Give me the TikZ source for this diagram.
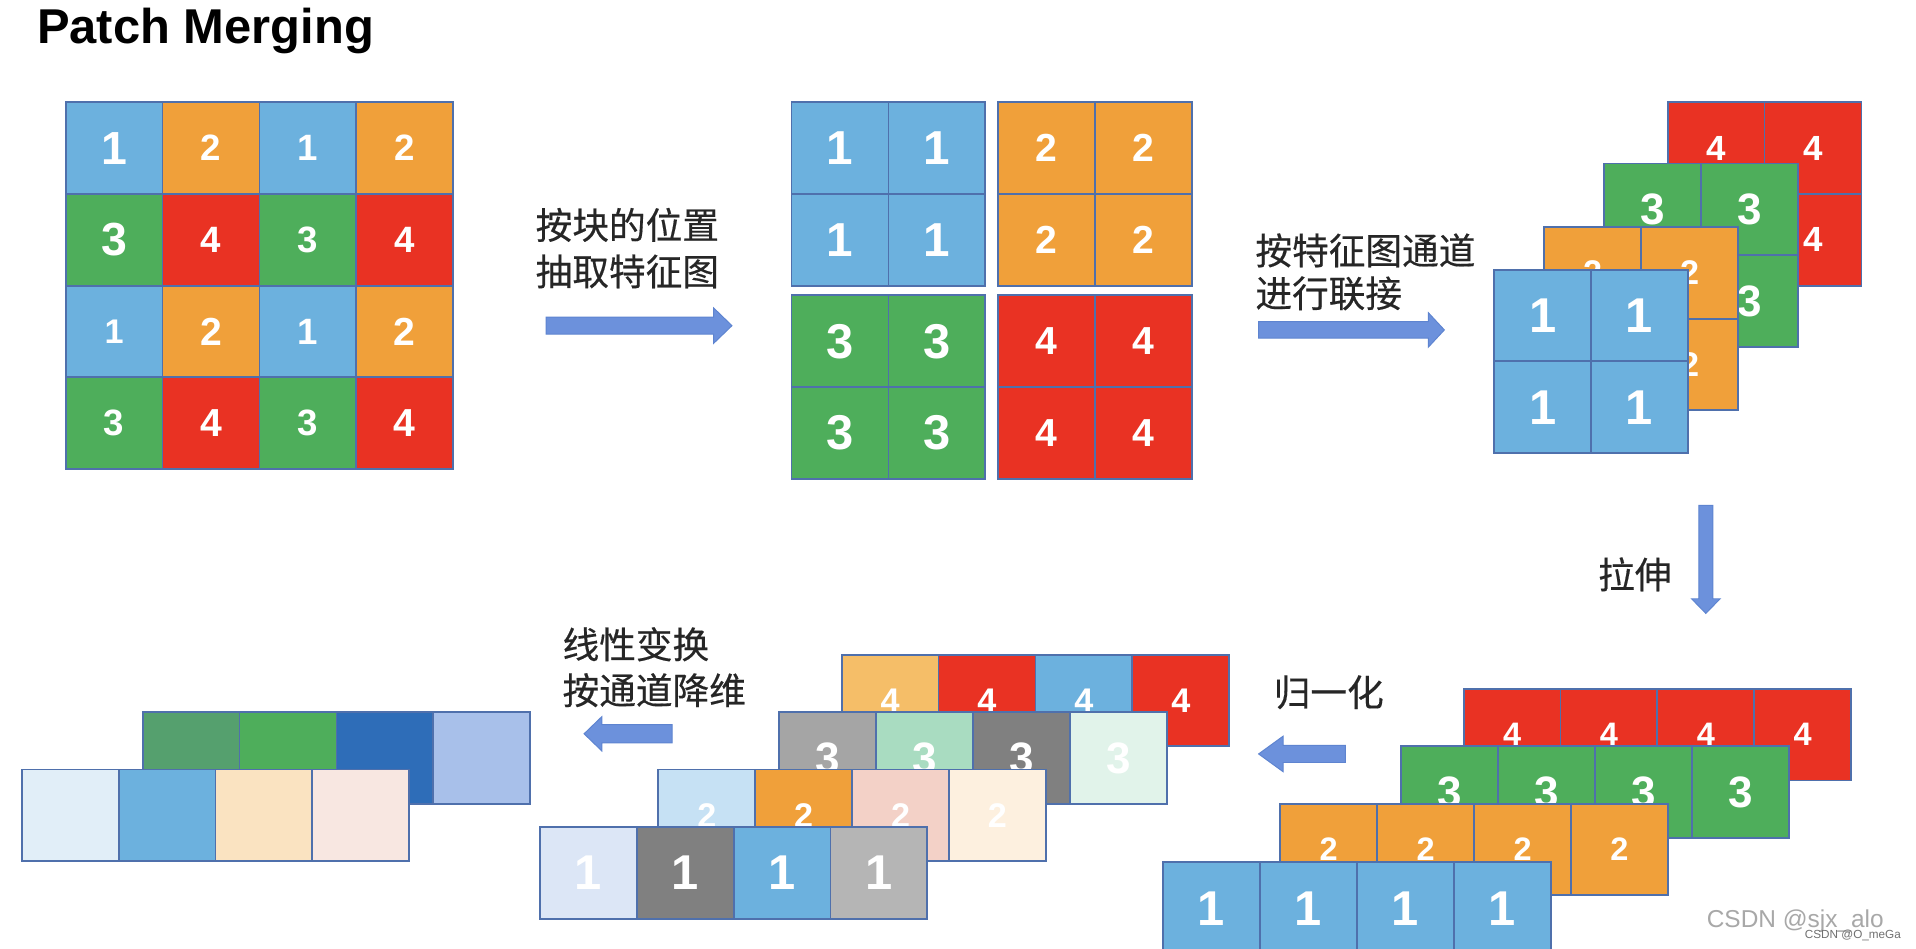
\documentclass[tikz,border=0pt]{standalone}
\usepackage{fontspec}
\setmainfont{Liberation Sans}
\newfontfamily\cjk[FakeBold=0.4]{Noto Sans CJK SC}
\definecolor{blueC}{HTML}{6CB1DE}
\definecolor{orangeC}{HTML}{F0A03A}
\definecolor{greenC}{HTML}{4EAE5B}
\definecolor{redC}{HTML}{E93223}
\definecolor{cellborder}{HTML}{4F70AC}
\definecolor{arrowblue}{HTML}{6C91DC}
\definecolor{arrowedge}{HTML}{5E84D0}
\definecolor{txtgray}{HTML}{262626}
\definecolor{wmgray}{HTML}{A8A8A8}
\definecolor{wmdark}{HTML}{707070}
% row stack 5 colours
\definecolor{lorange}{HTML}{F5BE68}
\definecolor{grayA}{HTML}{A5A5A5}
\definecolor{mintA}{HTML}{A9DCC1}
\definecolor{grayB}{HTML}{808080}
\definecolor{mintB}{HTML}{E1F3EA}
\definecolor{skyA}{HTML}{C6E1F4}
\definecolor{pinkA}{HTML}{F3D1C7}
\definecolor{creamA}{HTML}{FDF0DF}
\definecolor{paleblue}{HTML}{DCE6F6}
\definecolor{grayC}{HTML}{B5B5B5}
% final colours
\definecolor{dgreen}{HTML}{55A06E}
\definecolor{dblue}{HTML}{2E6DB8}
\definecolor{lblue}{HTML}{A8C0EA}
\definecolor{paleA}{HTML}{E1EEF8}
\definecolor{peach}{HTML}{FAE3C1}
\definecolor{pinkB}{HTML}{F8E7E1}

\newcommand\fsz[1]{\fontsize{#1}{#1}\selectfont}

\tikzset{
  cell/.style={draw=cellborder, line width=0.75pt, minimum width=39.65pt,
    minimum height=37.5pt, inner sep=0pt, anchor=north west, text=white},
  cjklabel/.style={inner sep=0pt, anchor=west, text=txtgray, align=left},
  blockarrow/.style={fill=arrowblue, draw=arrowedge, line width=0.4pt},
}

% a row of cells: #1 name, #2 x, #3 y, #4 list colour/label/size
\newcommand\cellrow[4]{%
  \foreach \col/\lab/\sz [count=\i] in {#4} {%
    \node[cell, fill=\col, font=\bfseries\fsz{\sz}] (#1-\i) at ({#2+(\i-1)*79.3},#3) {\lab};
  }}
% a 2x2 block: #1 name, #2 x, #3 y, #4 colour, #5 label, #6 size
\newcommand\twoblock[6]{%
  \cellrow{#1-a}{#2}{#3}{#4/#5/#6,#4/#5/#6}
  \cellrow{#1-b}{#2}{#3+75}{#4/#5/#6,#4/#5/#6}}
% right arrow: x1, x2, y, half body, half head, head length
\newcommand\rightarrowshape[6]{%
  \filldraw[blockarrow] (#1,{#3-#4}) -- ({#2-#6},{#3-#4}) -- ({#2-#6},{#3-#5})
    -- (#2,#3) -- ({#2-#6},{#3+#5}) -- ({#2-#6},{#3+#4}) -- (#1,{#3+#4}) -- cycle;}
% left arrow: x1 (tail, right), x2 (tip, left), y, half body, half head, head length
\newcommand\leftarrowshape[6]{%
  \filldraw[blockarrow] (#1,{#3-#4}) -- ({#2+#6},{#3-#4}) -- ({#2+#6},{#3-#5})
    -- (#2,#3) -- ({#2+#6},{#3+#5}) -- ({#2+#6},{#3+#4}) -- (#1,{#3+#4}) -- cycle;}
% down arrow: x, y1, y2 (tip), half body, half head, head length
\newcommand\downarrowshape[6]{%
  \filldraw[blockarrow] ({#1-#4},#2) -- ({#1-#4},{#3-#6}) -- ({#1-#5},{#3-#6})
    -- (#1,#3) -- ({#1+#5},{#3-#6}) -- ({#1+#4},{#3-#6}) -- ({#1+#4},#2) -- cycle;}

\begin{document}
\begin{tikzpicture}[x=0.5pt, y=-0.5pt]
\useasboundingbox (0,0) rectangle (1568,776);
\fill[white] (0,0) rectangle (1568,776);
\clip (0,0) rectangle (1568,776);

% title
\node[anchor=base west, inner sep=0pt, font=\bfseries\fsz{20pt}] (title) at (30,35.5) {Patch Merging};

% grid 1
\cellrow{ga}{53}{83}{blueC/1/19pt,orangeC/2/15pt,blueC/1/15pt,orangeC/2/15pt}
\cellrow{gb}{53}{158}{greenC/3/19pt,redC/4/15pt,greenC/3/15pt,redC/4/15pt}
\cellrow{gc}{53}{233}{blueC/1/14pt,orangeC/2/16pt,blueC/1/15pt,orangeC/2/16pt}
\cellrow{gd}{53}{308}{greenC/3/15pt,redC/4/16pt,greenC/3/15pt,redC/4/16pt}

% label 1 and arrow 1
\node[cjklabel, font=\cjk\fontsize{15pt}{19pt}\selectfont] (lab1) at (438,203) {按块的位置\\抽取特征图};
\rightarrowshape{447}{599}{266.5}{7}{14.5}{15}

% grid 2
\twoblock{p1}{647}{83}{blueC}{1}{19.5pt}
\twoblock{p2}{816}{83}{orangeC}{2}{16pt}
\twoblock{p3}{647}{241}{greenC}{3}{20pt}
\twoblock{p4}{816}{241}{redC}{4}{16pt}

% label 2 and arrow 2
\node[cjklabel, font=\cjk\fontsize{15pt}{17.5pt}\selectfont] (lab2) at (1027,222.5) {按特征图通道\\进行联接};
\rightarrowshape{1030}{1182}{270}{6.8}{14}{13}

% stacked channels
\twoblock{s4}{1364}{83}{redC}{4}{14.3pt}
\twoblock{s3}{1312}{133}{greenC}{3}{18pt}
\twoblock{s2}{1263}{185}{orangeC}{2}{14pt}
\twoblock{s1}{1222}{220}{blueC}{1}{20pt}

% stretch arrow
\downarrowshape{1396}{413.5}{502}{5.7}{11.7}{12}
\node[cjklabel, font=\cjk\fsz{15pt}] (lab3) at (1307.5,470) {拉伸};

% stretched rows
\cellrow{r4}{1197}{563}{redC/4/13.3pt,redC/4/13.3pt,redC/4/13.3pt,redC/4/13.3pt}
\cellrow{r3}{1146}{610}{greenC/3/18pt,greenC/3/18pt,greenC/3/18pt,greenC/3/18pt}
\cellrow{r2}{1047}{657}{orangeC/2/13.3pt,orangeC/2/13.3pt,orangeC/2/13.3pt,orangeC/2/13.3pt}
\cellrow{r1}{951}{705}{blueC/1/20pt,blueC/1/20pt,blueC/1/20pt,blueC/1/20pt}

% normalisation
\node[cjklabel, font=\cjk\fsz{15pt}] (lab4) at (1042,566.5) {归一化};
\leftarrowshape{1101}{1030}{617}{7}{14.5}{20}

% normalised rows
\cellrow{n4}{688}{535}{lorange/4/14pt,redC/4/14pt,blueC/4/14pt,redC/4/14pt}
\cellrow{n3}{637}{582}{grayA/3/18pt,mintA/3/18pt,grayB/3/18pt,mintB/3/18pt}
\cellrow{n2}{538}{629}{skyA/2/14pt,orangeC/2/14pt,pinkA/2/14pt,creamA/2/14pt}
\cellrow{n1}{441}{676}{paleblue/1/20pt,grayB/1/20pt,blueC/1/20pt,grayC/1/20pt}

% linear projection
\node[cjklabel, font=\cjk\fontsize{15pt}{18.75pt}\selectfont] (lab5) at (460,546) {线性变换\\按通道降维};
\leftarrowshape{550}{478}{600.5}{7.5}{14}{14.5}

% result rows
\cellrow{f2}{116}{582}{dgreen//10pt,greenC//10pt,dblue//10pt,lblue//10pt}
\cellrow{f1}{17}{629}{paleA//10pt,blueC//10pt,peach//10pt,pinkB//10pt}

% watermarks
\node[anchor=base east, inner sep=0pt, text=wmgray, font=\fsz{10pt}] (wm1) at (1542,759) {CSDN @sjx\_alo};
\node[anchor=base east, inner sep=0pt, text=wmdark, font=\fsz{4.8pt}] (wm2) at (1556,768) {CSDN @O\_meGa};
\end{tikzpicture}
\end{document}
